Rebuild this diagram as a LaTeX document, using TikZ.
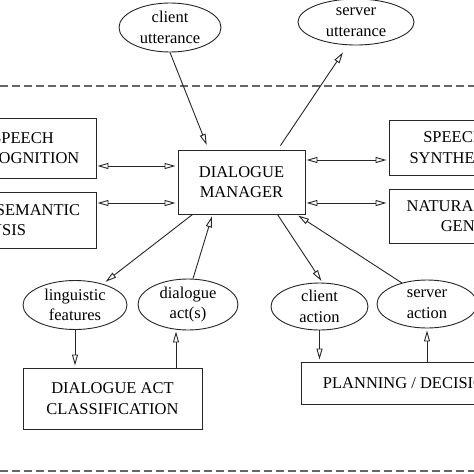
\documentclass[tikz,border=0pt]{standalone}
\usepackage{fontspec}
\setmainfont{Liberation Serif}
\usetikzlibrary{arrows.meta,shapes.geometric,calc}
\begin{document}
\begin{tikzpicture}[x=1pt,y=-1pt,
  every node/.style={font=\fontsize{16.5pt}{20.5pt}\selectfont, text=black, align=center, inner sep=0pt},
  stroke/.style={draw=black!85, line width=0.9pt},
  boxnode/.style={stroke, rectangle},
  ellnode/.style={stroke, ellipse},
  arr/.style={stroke, shorten >=2pt, -{Triangle[open,length=11pt,width=6pt]}},
  dbl/.style={stroke, shorten >=2pt, shorten <=1pt, {Triangle[open,length=11pt,width=6pt]}-{Triangle[open,length=11pt,width=6pt]}},
  sepline/.style={draw=black!60, line width=1.2pt, dash pattern=on 7.5pt off 4.5pt}]
\useasboundingbox (0,0) rectangle (474,474);
\fill[white] (0,0) rectangle (474,474);
\clip (0,0) rectangle (474,474);

% separators
\draw[sepline] (0,86) -- (474,86);
\draw[sepline] (0,471) -- (474,471);

% ellipses
\node[ellnode, minimum width=102pt, minimum height=49pt] (cu) at (170,27.5) {client\\utterance};
\node[ellnode, minimum width=116pt, minimum height=46pt] (su) at (356,22) {server\\utterance};
\node[ellnode, minimum width=104pt, minimum height=49pt] (lf) at (75,305) {linguistic\\features};
\node[ellnode, minimum width=100pt, minimum height=51pt] (da) at (188,304.5) {dialogue\\act(s)};
\node[ellnode, minimum width=97pt, minimum height=47pt] (ca) at (319.5,306.5) {client\\action};
\node[ellnode, minimum width=100pt, minimum height=48pt] (sa) at (427,304) {server\\action};

% boxes
\node[boxnode, minimum width=127pt, minimum height=64pt] (dm) at (241.5,182) {DIALOGUE\\MANAGER};
\node[boxnode, minimum width=146pt, minimum height=60pt] (sr) at (23,148) {SPEECH\\RECOGNITION};
\node[boxnode, minimum width=220pt, minimum height=56pt] (sem) at (-14,220) {SYNTACTIC / SEMANTIC\\ANALYSIS};
\node[boxnode, minimum width=130pt, minimum height=55pt] (ss) at (454,147.5) {SPEECH\\SYNTHESIS};
\node[boxnode, minimum width=208pt, minimum height=54pt] (nlg) at (493,216) {NATURAL LANGUAGE\\GENERATION};
\node[boxnode, minimum width=179pt, minimum height=61pt] (dac) at (112.5,398.5) {DIALOGUE ACT\\CLASSIFICATION};
\node[boxnode, minimum width=218pt, minimum height=42pt] (pd) at (410,383) {PLANNING / DECISION};

% helper coordinates
\coordinate (h1) at (0,166);
\coordinate (h2) at (0,203);
\coordinate (h3) at (0,160);
\coordinate (v1) at (176,0);

% horizontal double arrows
\draw[dbl] (sr.east |- h1) -- (dm.west |- h1);
\draw[dbl] (sem.east |- h2) -- (dm.west |- h2);
\draw[dbl] (dm.east |- h3) -- (ss.west |- h3);
\draw[dbl] (dm.east |- h2) -- (nlg.west |- h2);

% diagonal arrows
\draw[arr, shorten >=5pt] (cu.south) -- ($(dm.north west)+(31,0)$);
\draw[arr, shorten >=0pt] ($(dm.north east)+(-25,-4)$) -- ($(su.south)+(-13,7)$);
\draw[arr] ($(dm.south west)+(15,0)$) -- ($(lf.center)+(29,-22)$);
\draw[arr] ($(da.north)+(5,0)$) -- ($(dm.south west)+(35,0)$);
\draw[arr] ($(dm.south east)+(-28,0)$) -- ($(ca.north)+(3,0)$);
\draw[arr] ($(sa.center)+(-25,-21)$) -- ($(dm.south east)+(-9,0)$);

% vertical arrows
\draw[arr] (lf.south) -- (lf.south |- dac.north);
\draw[arr] (dac.north -| v1) -- ($(da.south -| v1)+(0,-1)$);
\draw[arr] (ca.south) -- (ca.south |- pd.north);
\draw[arr] (pd.north -| sa.south) -- (sa.south);
\end{tikzpicture}
\end{document}
